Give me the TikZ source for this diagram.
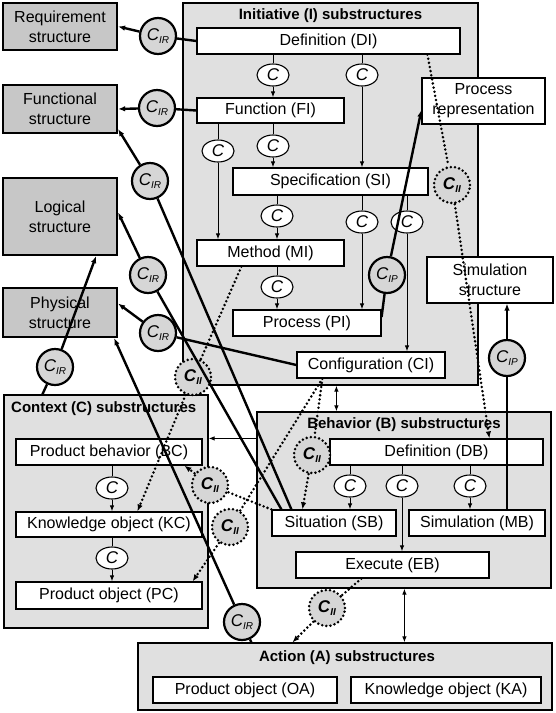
\documentclass[tikz,border=0pt]{standalone}
\usepackage{fontspec}
\setmainfont{Liberation Sans}
\usetikzlibrary{shapes, arrows.meta, positioning, calc}
\definecolor{structgray}{gray}{0.78}
\definecolor{subgray}{gray}{0.88}
\definecolor{linkgray}{gray}{0.84}
\newcommand{\clink}[1]{\textit{C}\raisebox{-3.5pt}{\fontsize{10}{10}\selectfont\textit{#1}}}

\begin{document}
\begin{tikzpicture}[x=1pt, y=-1pt,
        structbox/.style={draw, line width=2.2pt, fill=structgray, align=center, inner sep=0pt, minimum width=114pt, font=\fontsize{16}{20}\selectfont},
        substruct/.style={draw, line width=1.2pt, fill=subgray, inner sep=0pt},
        grouptitle/.style={font=\bfseries\fontsize{15}{18}\selectfont, inner sep=0pt},
        part/.style={draw, line width=1.2pt, fill=white, minimum height=26pt, inner sep=0pt, align=center, font=\fontsize{16}{20}\selectfont},
        cnode/.style={draw, ellipse, line width=1.1pt, fill=white, minimum width=32pt, minimum height=22pt, inner sep=0pt, font=\itshape\fontsize{17}{17}\selectfont},
        linkir/.style={draw, circle, line width=2.2pt, fill=linkgray, minimum size=36pt, inner sep=0pt, font=\fontsize{17}{17}\selectfont},
        linkii/.style={linkir, line width=2.8pt, dash pattern=on 0pt off 4.2pt, line cap=round, font=\bfseries\fontsize{17}{17}\selectfont},
        plain/.style={line width=1pt},
        flow/.style={line width=1pt, -{Latex[length=6pt,width=4.5pt]}},
        twoway/.style={line width=1pt, {Latex[length=6pt,width=4.5pt]}-{Latex[length=6pt,width=4.5pt]}},
        irline/.style={line width=2.4pt},
        irarrow/.style={irline, -{Latex[length=7pt,width=5.5pt]}},
        iiline/.style={line width=2.8pt, dash pattern=on 0pt off 4.2pt, line cap=round},
        iiarrow/.style={iiline, -{Latex[length=7pt,width=5.5pt]}}
    ]
    \useasboundingbox (0,0) rectangle (556,713);

    % substructure groups
    \node[substruct, minimum width=295pt, minimum height=382pt] (ini) at (330.5,194) {};
    \node[grouptitle, below=6pt of ini.north] (initl) {Initiative (I) substructures};
    \node[substruct, minimum width=204pt, minimum height=233pt] (ctx) at (106,511.5) {};
    \node[grouptitle, anchor=west] (ctxtl) at (11,409) {Context (C) substructures};
    \node[substruct, minimum width=294pt, minimum height=176pt] (beh) at (404,500) {};
    \node[grouptitle] (behtl) at (404,425) {Behavior (B) substructures};
    \node[substruct, minimum width=414pt, minimum height=67pt] (act) at (345,676.5) {};
    \node[grouptitle] (acttl) at (347,658) {Action (A) substructures};

    % structures
    \node[structbox, minimum height=47pt] (req) at (60,26.5) {Requirement\\structure};
    \node[structbox, minimum height=48pt] (fun) at (60,109) {Functional\\structure};
    \node[structbox, minimum height=77pt] (log) at (60,216.5) {Logical\\structure};
    \node[structbox, minimum height=49pt] (phy) at (60,312.5) {Physical\\structure};

    % initiative parts
    \node[part, minimum width=263pt] (di) at (328.5,41) {Definition (DI)};
    \node[part, minimum width=147pt, minimum height=25pt] (fi) at (270.5,110.5) {Function (FI)};
    \node[part, minimum width=195pt, minimum height=27pt] (si) at (330.5,181.5) {Specification (SI)};
    \node[part, minimum width=147pt] (mi) at (270.5,253) {Method (MI)};
    \node[part, minimum width=148pt] (pi) at (307,323) {Process (PI)};
    \node[part, minimum width=148pt] (ci) at (371,365) {Configuration (CI)};
    \node[part, minimum width=123pt, minimum height=46pt] (prep) at (483.5,101) {Process\\representation};
    \node[part, minimum width=126pt, minimum height=46pt] (simst) at (490,280) {Simulation\\structure};

    % context parts
    \node[part, minimum width=186pt] (bc) at (109,452) {Product behavior (BC)};
    \node[part, minimum width=186pt, minimum height=25pt] (kc) at (109,524.5) {Knowledge object (KC)};
    \node[part, minimum width=186pt, minimum height=27pt] (pc) at (109,595.5) {Product object (PC)};

    % behavior parts
    \node[part, minimum width=213pt] (db) at (436.5,452) {Definition (DB)};
    \node[part, minimum width=124pt] (sb) at (334,523) {Situation (SB)};
    \node[part, minimum width=136pt] (mb) at (477,523) {Simulation (MB)};
    \node[part, minimum width=193pt] (eb) at (392.5,565) {Execute (EB)};

    % action parts
    \node[part, minimum width=184pt] (oa) at (245,690) {Product object (OA)};
    \node[part, minimum width=190pt] (ka) at (446,690) {Knowledge object (KA)};

    % C links
    \node[cnode] (cdf) at (273,75) {C};
    \node[cnode] (cds) at (362,75) {C};
    \node[cnode] (cfm) at (218,151) {C};
    \node[cnode] (cfs) at (273,146) {C};
    \node[cnode] (csm) at (277,216) {C};
    \node[cnode] (csp) at (362,222) {C};
    \node[cnode] (csc) at (407,222) {C};
    \node[cnode] (cmp) at (277,287) {C};
    \node[cnode] (cbk) at (112,488) {C};
    \node[cnode] (ckp) at (112,558) {C};
    \node[cnode] (cds2) at (350,486) {C};
    \node[cnode] (cde) at (402,486) {C};
    \node[cnode] (cdm) at (470,486) {C};

    % C_IR, C_IP, C_II links
    \node[linkir] (irreq) at (158,36) {\clink{IR}};
    \node[linkir] (irfun) at (157,108) {\clink{IR}};
    \node[linkir] (irfunb) at (150,181) {\clink{IR}};
    \node[linkir] (irlog) at (148,275) {\clink{IR}};
    \node[linkir] (irphy) at (158,333) {\clink{IR}};
    \node[linkir] (irctx) at (55,367) {\clink{IR}};
    \node[linkir] (iract) at (242,622) {\clink{IR}};
    \node[linkir] (ipproc) at (387,275) {\clink{IP}};
    \node[linkir] (ipsim) at (507,358) {\clink{IP}};
    \node[linkii] (iidef) at (452,185) {\clink{II}};
    \node[linkii] (iimeth) at (193,377) {\clink{II}};
    \node[linkii] (iisit) at (210,485) {\clink{II}};
    \node[linkii] (iiconf) at (230,527) {\clink{II}};
    \node[linkii] (iiconfb) at (312,455) {\clink{II}};
    \node[linkii] (iiexec) at (327,608) {\clink{II}};

    % C connectors
    \draw[plain] (di.south -| cdf) -- (cdf);
    \draw[flow] (cdf) -- (cdf |- fi.north);
    \draw[plain] (di.south -| cds) -- (cds);
    \draw[flow] (cds) -- (cds |- si.north);
    \draw[plain] (fi.south -| cfm) -- (cfm);
    \draw[flow] (cfm) -- (cfm |- mi.north);
    \draw[plain] (fi.south -| cfs) -- (cfs);
    \draw[flow] (cfs) -- (cfs |- si.north);
    \draw[plain] (si.south -| csm) -- (csm);
    \draw[flow] (csm) -- (csm |- mi.north);
    \draw[plain] (si.south -| csp) -- (csp);
    \draw[flow] (csp) -- (csp |- pi.north);
    \draw[plain] (si.south -| csc) -- (csc);
    \draw[flow] (csc) -- (csc |- ci.north);
    \draw[plain] (mi.south -| cmp) -- (cmp);
    \draw[flow] (cmp) -- (cmp |- pi.north);
    \draw[plain] (bc.south -| cbk) -- (cbk);
    \draw[flow] (cbk) -- (cbk |- kc.north);
    \draw[plain] (kc.south -| ckp) -- (ckp);
    \draw[flow] (ckp) -- (ckp |- pc.north);
    \draw[plain] (db.south -| cds2) -- (cds2);
    \draw[flow] (cds2) -- (cds2 |- sb.north);
    \draw[plain] (db.south -| cde) -- (cde);
    \draw[flow] (cde) -- (cde |- eb.north);
    \draw[plain] (db.south -| cdm) -- (cdm);
    \draw[flow] (cdm) -- (cdm |- mb.north);

    % between groups
    \draw[flow] (beh.west |- db.north) -- (ctx.east |- db.north);
    \coordinate (ib) at ([xshift=80pt]beh.north west);
    \draw[twoway] (ib) -- (ib |- ini.south);
    \coordinate (ba) at ([xshift=148pt]beh.south west);
    \draw[twoway] (ba) -- (ba |- act.north);

    % C_IR connectors
    \draw[irline] (irreq) -- (di.west);
    \draw[irarrow] (irreq) -- (req.east);
    \draw[irline] (irfun) -- (fi.west);
    \draw[irarrow] (irfun) -- (fun.east);
    \draw[irarrow] (irfunb) -- ([yshift=5pt]fun.south east);
    \draw[irline] (irfunb) -- ([xshift=20pt]sb.north west);
    \draw[irarrow] (irlog) -- ([yshift=4pt]log.east);
    \draw[irline] (irlog) -- ([xshift=10pt]sb.north west);
    \draw[irarrow] (irphy) -- ([yshift=9pt]phy.east);
    \draw[irline] (irphy) -- (ci.west);
    \draw[irarrow] (irctx) -- ([xshift=-22pt]log.south east);
    \draw[irline] (irctx) -- ([xshift=39pt]ctx.north west);
    \draw[irarrow] (iract) -- ([xshift=-4pt]phy.south east);
    \draw[irline] (iract) -- ([xshift=114pt]act.north west);

    % C_IP connectors
    \draw[irline] ([yshift=6pt]pi.east) -- (ipproc);
    \draw[irarrow] (ipproc) -- ([yshift=-9pt]prep.west);
    \draw[irline] (ipsim) -- (ipsim |- mb.north);
    \draw[irarrow] (ipsim) -- (ipsim |- simst.south);

    % C_II connectors
    \draw[iiline] ([xshift=231pt]di.south west) -- (iidef);
    \draw[iiarrow] (iidef) -- ([xshift=160pt]db.north west);
    \draw[iiline] ([xshift=45pt]mi.south west) -- (iimeth);
    \draw[iiarrow] (iimeth) -- ([xshift=122pt]kc.north west);
    \draw[iiline] (sb.north west) -- (iisit);
    \draw[iiarrow] (iisit) -- ([xshift=169pt]bc.south west);
    \draw[iiline] ([xshift=26pt]ci.south west) -- (iiconf);
    \draw[iiarrow] (iiconf) -- ([xshift=-10pt]pc.north east);
    \draw[iiline] ([xshift=26pt]ci.south west) -- (iiconfb);
    \draw[iiarrow] (iiconfb) -- ([xshift=31pt]sb.north west);
    \draw[iiline] ([xshift=66pt]eb.south west) -- (iiexec);
    \draw[iiarrow] (iiexec) -- ([xshift=155pt]act.north west);
\end{tikzpicture}
\end{document}
